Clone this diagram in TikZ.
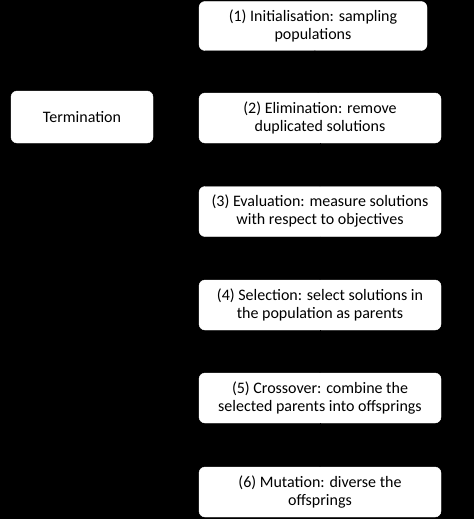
\documentclass[tikz,border=0pt]{standalone}
\usepackage{fontspec}
\setmainfont{Carlito}
\begin{document}
\begin{tikzpicture}[x=1pt,y=-1pt,
        stage/.style={rectangle,rounded corners=6pt,fill=white,draw=white,
            minimum width=242pt,minimum height=50pt,inner sep=0pt,align=center,
            font=\fontsize{16}{18}\selectfont},
        flow/.style={->,>=stealth,black,thick}]
	\fill[black] (0,0) rectangle (474,519);
	\useasboundingbox (0,0) rectangle (474,519);
	
	\node[stage, minimum width=228pt, minimum height=49pt] (init) at (313,26) {(1) Initialisation: sampling\\populations};
	\node[stage] (elim) at (320,118) {(2) Elimination: remove\\duplicated solutions};
	\node[stage] (eval) at (320,211.5) {(3) Evaluation: measure solutions\\with respect to objectives};
	\node[stage] (sel) at (320,305) {(4) Selection: select solutions in\\the population as parents};
	\node[stage] (cross) at (320,398) {(5) Crossover: combine the\\selected parents into offsprings};
	\node[stage] (mut) at (320,492) {(6) Mutation: diverse the\\offsprings};
	\node[stage, minimum width=142pt, minimum height=52pt] (term) at (82,117) {Termination};
	
	\draw[flow] (init) -- (elim);
	\draw[flow] (elim) -- (eval);
	\draw[flow] (eval) -- (sel);
	\draw[flow] (sel) -- (cross);
	\draw[flow] (cross) -- (mut);
\end{tikzpicture}
\end{document}
